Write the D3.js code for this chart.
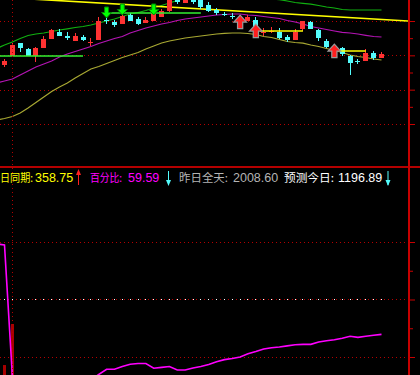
<!DOCTYPE html>
<html><head><meta charset="utf-8">
<script src="https://cdn.jsdelivr.net/npm/d3@7"></script>
<style>html,body{margin:0;padding:0;background:#000;overflow:hidden}svg{display:block}</style>
</head><body><svg id="c" width="420" height="375"></svg>
<script>
// ---------- DATA ----------
const opens  = [3268,3295,3334,3316,3295,3319,3346,3367,3355,3340,3352,3337,3343,3403,3397,3391,3418,3406,3394,3400,3412,3430,3475,3454,3472,3463,3448,3433,3422,3415,3397,3400,3403,3366,3369,3367,3352,3343,3376,3397,3373,3340,3325,3319,3295,3279,3280,3304,3289];
const closes = [3280,3328,3319,3295,3319,3346,3373,3355,3349,3355,3343,3338,3400,3402,3388,3415,3400,3391,3403,3424,3430,3478,3457,3475,3457,3442,3430,3424,3421,3414,3409,3412,3382,3367,3370,3349,3343,3367,3400,3376,3349,3322,3313,3301,3274,3278,3304,3289,3301];
const highs  = [3286,3334,3334,3319,3322,3355,3376,3376,3367,3364,3358,3349,3412,3409,3403,3421,3424,3412,3412,3433,3436,3487,3481,3481,3478,3469,3457,3439,3427,3424,3415,3418,3412,3379,3382,3379,3358,3376,3400,3400,3376,3346,3328,3322,3298,3286,3316,3310,3307];
const lows   = [3262,3295,3307,3295,3277,3319,3346,3355,3343,3340,3340,3325,3343,3391,3382,3391,3400,3388,3394,3400,3412,3427,3451,3454,3451,3436,3427,3418,3415,3406,3394,3400,3382,3355,3364,3346,3337,3343,3370,3376,3340,3319,3310,3295,3238,3271,3280,3283,3289];

// moving averages, first value belongs to the bar before index 0
const maShort = [3317.5,3328,3337,3347.5,3356.5,3361,3364,3368.5,3373,3376.6,3380.5,3383.5,3388,3394,3400,3406,3413.5,3421,3425.5,3431.5,3439,3446.5,3454,3461.5,3469,3473.5,3476.5,3478,3479.5,3479.5,3478,3476.5,3475,3472,3469,3466,3464,3460,3455.5,3453,3450.4,3446.5,3442,3439,3434.5,3433,3433,3433,3433,3433];
const maMid   = [3214,3220,3226,3238,3250,3262,3271,3280,3292,3301,3308.5,3316,3323.5,3332.5,3340,3347.5,3353.5,3364,3371.5,3379,3385,3391,3395.5,3401.5,3406,3409,3412,3415,3418,3419.5,3421,3421,3418,3416.5,3413.5,3410.5,3407.5,3401.5,3397,3391,3383.5,3379,3374.5,3370,3366,3364,3361,3357,3353.5,3352];
const maLong  = [3103,3107.5,3113.5,3124,3139,3155.5,3172,3188.5,3202,3214,3229,3242.5,3256,3263.5,3272.5,3281.5,3290.5,3298,3305.5,3316,3325,3334,3340,3344.5,3349,3352,3355,3358,3361,3363,3364,3364,3362.5,3359.5,3353.5,3350.5,3344.5,3338.5,3335.5,3333.5,3328,3323.5,3317.5,3311.5,3305.5,3298,3293.5,3290.5,3286,3283];

const trendIdx = [-1, 51.4];
const trendVal = [3472, 3400];

const greenLevels  = [{from:-1, to:10, v:3295}, {from:13, to:25, v:3424}];
const yellowLevels = [{from:32.5, to:38, v:3370}, {from:42.7, to:46, v:3310}];

const sellSignals = [{i:13, v:3409}, {i:15, v:3418}, {i:19, v:3418}];
const buySignals  = [{i:30, v:3415}, {i:32, v:3388}, {i:42, v:3328}];

// lower panel
const ratioLine = [98.3,97.4,-16.5,-33.0,-37.4,-39.1,-39.1,-37.4,-35.7,-33.0,-28.7,-24.3,-20.0,-15.2,-10.7,-10.7,-8.3,-6.3,-5.7,-5.7,-9.8,-9.0,-8.3,-11.3,-11.3,-9.6,-8.3,-6.5,-4.1,-2.3,-1.3,0,2.8,4.8,7.0,8.0,8.7,9.7,10.6,11.0,11.0,13.0,14.2,15.0,16.3,18.0,17.1,18.0,18.9,19.7];
const barIdx = [0, 1];
const barVal = [-7.0, 28.7];
const barBase = -25;
const midValue = 50;

const priceGrid  = [3400, 3297, 3194, 3091];
const priceMinor = [3348.5, 3245.5, 3142.5];
const ratioGrid  = [100, 50, 0];
const ratioMinor = [75, 25];
const daySeparators = [1];

const legendLabels = ["日同期:", "百分比:", "昨日全天:", "预测今日:"];
const legendValues = ["358.75", "59.59", "2008.60", "1196.89"];
const legendDirs   = ["up", "down", "", "down"];

// ---------- LAYOUT / STYLE ----------
const labelX = [0, 90, 179, 284];
const labelW = [33, 32, 49, 50];
const valueX = [35, 128, 233, 338];
const arrowX = [78.5, 168.5, 0, 388];
const legendColors = ["#ffff00", "#ff00ff", "#b4b4b4", "#ffffff"];
const UP = "#ff3232", DOWN = "#54fcfc", GRID = "#b40000", AX = "#c80000";

const svg = d3.select("#c");
svg.append("rect").attr("width",420).attr("height",375).attr("fill","#000");
const defs = svg.append("defs");
defs.append("clipPath").attr("id","clipTop").append("rect").attr("x",0).attr("y",0).attr("width",408).attr("height",166);
defs.append("clipPath").attr("id","clipBot").append("rect").attr("x",0).attr("y",168).attr("width",408).attr("height",207);

const x = d3.scaleLinear().domain([0,48]).range([4.5,381.5]);
const yTop = d3.scaleLinear().domain([3091,3400]).range([124,21]);
const yBot = d3.scaleLinear().domain([0,100]).range([357,242]);
const gy = v => Math.round(v - 0.1) + 0.5;

const topG = svg.append("g").attr("clip-path","url(#clipTop)");
const botG = svg.append("g").attr("clip-path","url(#clipBot)");

// grids
topG.selectAll(".g").data(priceGrid).join("line")
  .attr("x1",0).attr("x2",408).attr("y1",d=>gy(yTop(d))).attr("y2",d=>gy(yTop(d)))
  .attr("stroke",GRID).attr("stroke-dasharray","1,3").attr("shape-rendering","crispEdges");
botG.selectAll(".g").data(ratioGrid).join("line")
  .attr("x1",0).attr("x2",408).attr("y1",d=>gy(yBot(d))).attr("y2",d=>gy(yBot(d)))
  .attr("stroke",GRID).attr("stroke-dasharray","1,3").attr("shape-rendering","crispEdges");
svg.selectAll(".vs").data(daySeparators).join("line")
  .attr("x1",d=>Math.floor(x(d))+0.5).attr("x2",d=>Math.floor(x(d))+0.5)
  .attr("y1",0).attr("y2",375).attr("stroke",GRID).attr("stroke-dasharray","1,3")
  .attr("shape-rendering","crispEdges");

// moving averages
const maLine = d3.line().x((d,i)=>x(i-1)).y(d=>yTop(d));
[[maLong,"#a8a832"],[maMid,"#b414b4"],[maShort,"#10b010"]].forEach(([s,c])=>{
  topG.append("path").datum(s).attr("d",maLine).attr("fill","none").attr("stroke",c).attr("stroke-width",1.2);
});

// trend line
topG.append("path").datum(d3.zip(trendIdx,trendVal))
  .attr("d", d3.line().x(d=>x(d[0])).y(d=>yTop(d[1])))
  .attr("stroke","#ffff00").attr("stroke-width",1.6).attr("fill","none");

// candles
const idx = d3.range(opens.length);
const cg = topG.append("g").attr("shape-rendering","crispEdges");
cg.selectAll(".w").data(idx).join("line")
  .attr("x1",i=>Math.floor(x(i))+0.5).attr("x2",i=>Math.floor(x(i))+0.5)
  .attr("y1",i=>yTop(highs[i])).attr("y2",i=>yTop(lows[i]))
  .attr("stroke",i=>closes[i]>=opens[i]?UP:DOWN);
cg.selectAll(".b").data(idx).join("rect")
  .attr("x",i=>Math.floor(x(i))-2).attr("width",5)
  .attr("y",i=>Math.round(yTop(Math.max(opens[i],closes[i]))))
  .attr("height",i=>Math.max(1, Math.round(yTop(Math.min(opens[i],closes[i]))) - Math.round(yTop(Math.max(opens[i],closes[i])))))
  .attr("fill",i=>closes[i]>=opens[i]?UP:DOWN);

// level lines
topG.selectAll(".gl").data(greenLevels).join("line")
  .attr("x1",d=>x(d.from)).attr("x2",d=>x(d.to)).attr("y1",d=>yTop(d.v)).attr("y2",d=>yTop(d.v))
  .attr("stroke","#30f030").attr("stroke-width",1.3);
topG.selectAll(".yl").data(yellowLevels).join("line")
  .attr("x1",d=>x(d.from)).attr("x2",d=>x(d.to)).attr("y1",d=>yTop(d.v)).attr("y2",d=>yTop(d.v))
  .attr("stroke","#ffff00").attr("stroke-width",1.5);

// signal arrows
function downArrow(cx,ty){return `M${cx-2},${ty-11}H${cx+2}V${ty-5.5}H${cx+5}L${cx},${ty}L${cx-5},${ty-5.5}H${cx-2}Z`;}
function upArrow(cx,ty){return `M${cx},${ty}L${cx+5},${ty+5.5}H${cx+2}V${ty+12}H${cx-2}V${ty+5.5}H${cx-5}Z`;}
topG.selectAll(".sa").data(sellSignals).join("path")
  .attr("d",d=>downArrow(x(d.i),yTop(d.v))).attr("fill","#00ff00").attr("stroke","#008a00").attr("stroke-width",1);
topG.selectAll(".bs").data(buySignals).join("path")
  .attr("d",d=>upArrow(x(d.i),yTop(d.v))).attr("fill","none").attr("stroke","#9a9a9a").attr("stroke-width",2.4);
topG.selectAll(".ba").data(buySignals).join("path")
  .attr("d",d=>upArrow(x(d.i),yTop(d.v))).attr("fill","#ff1e1e");

// lower panel
botG.selectAll(".bar").data(barIdx).join("rect")
  .attr("x",(d)=>Math.floor(x(d))-1).attr("width",3)
  .attr("y",(d,k)=>yBot(barVal[k])).attr("height",(d,k)=>yBot(barBase)-yBot(barVal[k]))
  .attr("fill","#a80000");
botG.selectAll(".md").data(idx).join("rect")
  .attr("x",i=>Math.floor(x(i))).attr("y",Math.floor(yBot(midValue))).attr("width",1).attr("height",1)
  .attr("fill","#ffffff");
botG.append("path").datum(ratioLine)
  .attr("d", d3.line().x((d,i)=>x(i-1)).y(d=>yBot(d)))
  .attr("fill","none").attr("stroke","#ff00ff").attr("stroke-width",1.6);

// separator and axis
svg.append("line").attr("x1",0).attr("x2",420).attr("y1",167).attr("y2",167).attr("stroke","#b40000").attr("stroke-width",2);
svg.append("line").attr("x1",409).attr("x2",409).attr("y1",0).attr("y2",375).attr("stroke",AX).attr("stroke-width",2);
function ticks(scale, vals, size){
  const g = svg.append("g").attr("transform","translate(410,0)")
    .call(d3.axisRight(scale).tickValues(vals).tickSize(size).tickFormat(""));
  g.select(".domain").remove();
  g.selectAll("line").attr("stroke",AX);
}
ticks(yTop, priceGrid, 5); ticks(yTop, priceMinor, 3);
ticks(yBot, ratioGrid, 5); ticks(yBot, ratioMinor, 3);

// legend
const lg = svg.append("g");
legendLabels.forEach((t,k)=>{
  lg.append("text").attr("x",labelX[k]).attr("y",182).text(t)
    .attr("textLength",labelW[k]).attr("lengthAdjust","spacingAndGlyphs")
    .attr("fill",legendColors[k]).attr("font-family","'Noto Sans CJK SC', sans-serif").attr("font-size","11.5px");
  lg.append("text").attr("x",valueX[k]).attr("y",182).text(legendValues[k])
    .attr("fill",legendColors[k]).attr("font-family","'Liberation Sans', Arial, sans-serif").attr("font-size","12.5px");
  if (legendDirs[k]) {
    const cx = arrowX[k], up = legendDirs[k]==="up";
    const col = up ? "#ff2020" : DOWN;
    lg.append("line").attr("x1",cx).attr("x2",cx).attr("y1",171).attr("y2",185).attr("stroke",col);
    lg.append("path").attr("d", up ? `M${cx},169L${cx-2.5},175H${cx+2.5}Z` : `M${cx},186L${cx-2.5},180H${cx+2.5}Z`).attr("fill",col);
  }
});
</script>
</body></html>
